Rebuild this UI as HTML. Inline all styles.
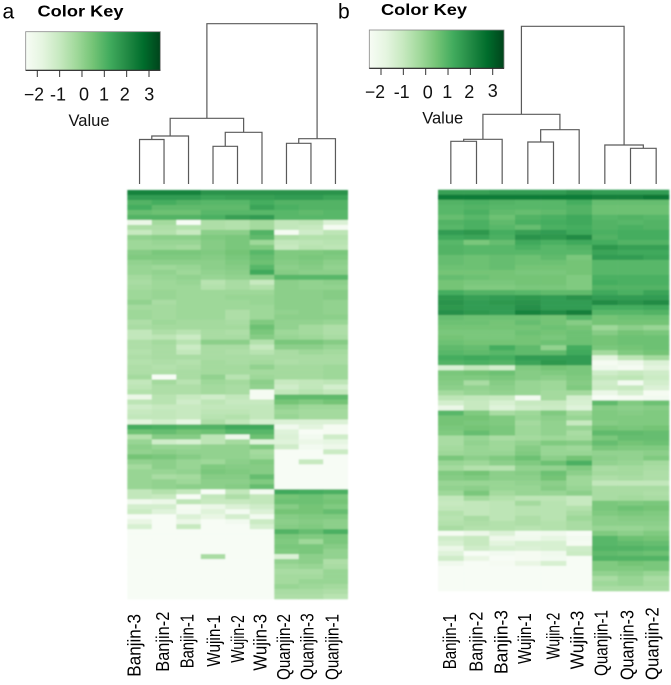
<!DOCTYPE html>
<html>
<head>
<meta charset="utf-8">
<title>Heatmaps</title>
<style>
html,body{margin:0;padding:0;background:#fff;width:671px;height:685px;overflow:hidden}
svg{display:block;font-family:"Liberation Sans",sans-serif}
</style>
</head>
<body>
<svg id="figure" xmlns="http://www.w3.org/2000/svg" width="671" height="685" viewBox="0 0 671 685">
  <defs>
    <linearGradient id="keyGrad" x1="0" x2="1" y1="0" y2="0"></linearGradient>
    <filter id="soften" x="-2%" y="-2%" width="104%" height="104%"><feGaussianBlur stdDeviation="0.7"/></filter>
  </defs>
  <rect width="671" height="685" fill="#fff"/>

  <text x="2.5" y="18.5" font-size="21" fill="#000">a</text>
  <text x="338" y="18.5" font-size="21" fill="#000">b</text>

  <g id="panelA">
    <text x="37.5" y="16.5" font-size="16" font-weight="bold" textLength="86" lengthAdjust="spacingAndGlyphs" fill="#000">Color Key</text>
    <g font-size="18" fill="#111" text-anchor="middle">
      <text x="34" y="100.5" textLength="20" lengthAdjust="spacingAndGlyphs">−2</text>
      <text x="58" y="100.5">-1</text>
      <text x="84" y="100.5">0</text>
      <text x="104" y="100.5">1</text>
      <text x="124.7" y="100.5">2</text>
      <text x="149.3" y="100.5">3</text>
    </g>
    <text x="89" y="126" font-size="17" text-anchor="middle" textLength="41" lengthAdjust="spacingAndGlyphs" fill="#111">Value</text>
    <g font-size="18" fill="#000" text-anchor="start">
      <text transform="translate(140.7,676.7) rotate(-90)" textLength="62.7" lengthAdjust="spacingAndGlyphs">Banjin-3</text>
      <text transform="translate(169,671.7) rotate(-90)" textLength="60" lengthAdjust="spacingAndGlyphs">Banjin-2</text>
      <text transform="translate(193.3,668.3) rotate(-90)" textLength="54.3" lengthAdjust="spacingAndGlyphs">Banjin-1</text>
      <text transform="translate(220,666.7) rotate(-90)" textLength="51.7" lengthAdjust="spacingAndGlyphs">Wujin-1</text>
      <text transform="translate(244,662.7) rotate(-90)" textLength="47.5" lengthAdjust="spacingAndGlyphs">Wujin-2</text>
      <text transform="translate(266.7,670.7) rotate(-90)" textLength="56.7" lengthAdjust="spacingAndGlyphs">Wujin-3</text>
      <text transform="translate(290,680) rotate(-90)" textLength="66" lengthAdjust="spacingAndGlyphs">Quanjin-2</text>
      <text transform="translate(313.3,680) rotate(-90)" textLength="66.7" lengthAdjust="spacingAndGlyphs">Quanjin-3</text>
      <text transform="translate(338.3,680) rotate(-90)" textLength="66" lengthAdjust="spacingAndGlyphs">Quanjin-1</text>
    </g>
  </g>

  <g id="panelB">
    <text x="381" y="15" font-size="16" font-weight="bold" textLength="86" lengthAdjust="spacingAndGlyphs" fill="#000">Color Key</text>
    <g font-size="18" fill="#111" text-anchor="middle">
      <text x="375" y="98" textLength="20" lengthAdjust="spacingAndGlyphs">−2</text>
      <text x="401.7" y="98">-1</text>
      <text x="427.7" y="98.5">0</text>
      <text x="447.3" y="98">1</text>
      <text x="469.3" y="98">2</text>
      <text x="492.7" y="97">3</text>
    </g>
    <text x="442.7" y="123.3" font-size="17" text-anchor="middle" textLength="41" lengthAdjust="spacingAndGlyphs" fill="#111">Value</text>
    <g font-size="18" fill="#000" text-anchor="start">
      <text transform="translate(456,669.3) rotate(-90)" textLength="55.3" lengthAdjust="spacingAndGlyphs">Banjin-1</text>
      <text transform="translate(482.7,671.7) rotate(-90)" textLength="60" lengthAdjust="spacingAndGlyphs">Banjin-2</text>
      <text transform="translate(507.7,674) rotate(-90)" textLength="64" lengthAdjust="spacingAndGlyphs">Banjin-3</text>
      <text transform="translate(531,664) rotate(-90)" textLength="50.7" lengthAdjust="spacingAndGlyphs">Wujin-1</text>
      <text transform="translate(559.3,659.4) rotate(-90)" textLength="46.7" lengthAdjust="spacingAndGlyphs">Wujin-2</text>
      <text transform="translate(583.7,669.4) rotate(-90)" textLength="58.7" lengthAdjust="spacingAndGlyphs">Wujin-3</text>
      <text transform="translate(607.7,676) rotate(-90)" textLength="66" lengthAdjust="spacingAndGlyphs">Quanjin-1</text>
      <text transform="translate(633.7,680) rotate(-90)" textLength="70" lengthAdjust="spacingAndGlyphs">Quanjin-3</text>
      <text transform="translate(658.3,680) rotate(-90)" textLength="72.7" lengthAdjust="spacingAndGlyphs">Quanjin-2</text>
    </g>
  </g>
</svg>

<script>
// Colour scale (R "Greens" ramp across the key range)
const colorRamp = ['#f7fcf5','#e5f5e0','#c7e9c0','#a1d99b','#74c476','#41ab5d','#238b45','#006d2c','#00441b'];
const keyRange = [-2.49, 3.49];
const keyTicks = [-2, -1, 0, 1, 2, 3];

// Panel a heatmap values: rows top to bottom, columns Banjin-3 .. Quanjin-1
const valuesA = [
[2.2,2.2,2.2,1.8,1.8,1.8,1.8,1.8,1.8],
[1.6,1.6,1.6,1.4,1.5,1.5,1.6,1.6,1.4],
[1,1.2,1,.9,.9,1.2,1,1,1],
[1.2,.8,.8,.8,.8,1.4,1.1,1,1],
[.7,.6,.6,.9,.9,.9,.9,.8,.9],
[1,1,1,1.1,1.5,1.6,.9,.9,.9],
[-2,-.3,-2.5,-.5,-.6,-.3,-.9,-.8,-1.5],
[-.5,-.5,-.6,-.5,-.6,-.3,-.9,-1,-2.4],
[-1,-.6,-1,.1,.1,1,-2.4,-1.2,-.8],
[0,.1,.1,.3,.4,.8,-.5,-.6,-.6],
[-.2,-.1,-.1,.2,.4,-.2,-.9,-.8,-.7],
[-.2,-.2,-.3,.2,.4,.3,-1,-.7,-.8],
[.2,.4,.4,.3,.5,.9,.3,.3,.4],
[.3,.3,.3,.2,.4,.7,.3,.4,.3],
[0,.1,.1,.1,.3,.6,.2,.3,.1],
[-.1,-.2,-.1,.1,.2,.9,.1,.2,0],
[-.1,0,-.2,0,.1,1.3,.2,.1,.1],
[-.3,-.1,0,-.1,0,.1,.9,.9,.9],
[-.4,-.2,-.1,-.7,-.4,-1,.1,0,.1],
[-.3,-.2,-.2,-.6,-.4,-.6,.1,0,0],
[-.2,-.1,-.2,-.2,-.2,-.2,.1,.1,.2],
[-.2,-.1,-.2,-.2,-.1,-.1,.1,.1,.2],
[0,-.4,-.2,-.2,-.2,-.1,.1,.1,0],
[-.3,-.3,-.2,-.2,-.2,-.2,.1,.1,0],
[-.2,-.3,-.2,-.2,-.5,-.2,0,.1,0],
[-.2,-.3,-.2,-.2,-.5,-.2,.1,.1,.1],
[-.5,-.2,-.3,-.3,-.4,.3,0,0,-.1],
[-.4,-.3,-.3,-.3,-.3,.6,0,-.3,-.5],
[-.9,-.5,-.7,-.4,-.5,.4,-.2,-.3,-.5],
[-.9,-.8,-1.1,-.4,-.4,.2,-.1,-.2,-.4],
[-.5,-.3,-.7,.1,.1,-.6,.4,.4,.2],
[-.5,-.4,-1.1,-.4,-.4,-1,.1,.1,-.1],
[-.6,-.4,-.9,-.4,-.5,-.7,-.4,-.2,-.3],
[-.5,-.4,-.4,-.4,-.4,-.4,-.4,-.4,-.4],
[-.6,-.5,-.6,-.3,-.4,-.3,-.5,-.4,-.4],
[-.5,-.6,-.5,-.3,-.3,0,-.3,-.3,-.2],
[-.5,-.5,-.4,-.3,-.3,-.3,-.3,-.3,-.2],
[-.3,-2.5,-.4,0,-.7,-.2,-.3,-.3,-.2],
[-.9,-.3,-.7,-.2,-.3,.1,-1,-.9,-.8],
[-.8,-.5,-.5,-.3,-.4,0,-1.2,-.9,-1.3],
[-.6,-.5,-.5,-.3,-.4,-2.4,-.9,-.7,-.9],
[-2,-.7,-1,-1.2,-.9,-2.4,.8,.8,.8],
[-.8,-.7,-1.2,-.8,-1,-1,.5,.3,.5],
[-1.2,-1,-1,-.9,-.9,-.9,0,-.2,-.2],
[-1,-.9,-1,-.8,-.8,-.9,-.2,-.3,-.3],
[-.9,-.9,-1,-.7,-.6,-.9,-.1,-.3,-.3],
[-1.7,-1.3,-1.9,-.5,-.9,-1.4,-1.5,-1.5,-1.5],
[1.2,1.1,1,1,1.3,1.3,-2.2,-1.7,-2.4],
[.6,.7,.5,.6,.9,.9,-1.6,-2.5,-2.4],
[-.6,.2,.2,-.8,-2.1,.6,-1.5,-2.3,-1.2],
[-.1,-1.2,-1.4,-.8,-.3,-1.6,-1.6,-2,-1.8],
[.1,-.1,-.1,0,0,.3,-1.2,-2.3,-2.1],
[0,.1,0,0,0,-.3,-2.5,-2.5,-1.1],
[.5,.4,.2,0,0,-.2,-2.5,-2.5,-2.5],
[0,.1,-.1,-.2,.1,.3,-2.5,-1,-2.5],
[-.3,.1,-.1,.3,.2,.2,-2.5,-2.5,-2.5],
[-.1,-.1,0,.4,.3,.2,-2.5,-2.5,-2.5],
[-.1,-.4,-.3,.2,.2,.7,-2.5,-2.5,-2.5],
[-.1,0,-.2,.1,.1,.3,-2.5,-2.5,-2.5],
[-.1,0,.1,.1,.2,.7,-2.5,-2.5,-2.5],
[-.9,-.6,-.9,-2.5,-.9,-2.3,1.3,1.2,1.1],
[-.9,-1,-2.5,-.9,-.5,-.9,.5,.6,.4],
[-2.2,-2,-.8,-1,-1,-.9,.6,.6,.5],
[-1.3,-1.3,-2.4,-2,-1.5,-1.2,.2,.5,.3],
[-1.1,-1.6,-2.3,-1.6,-2.3,-1.5,.5,.5,.7],
[-2.5,-2.5,-1.5,-1.9,-1.3,-2.3,.2,.3,.3],
[-1.9,-2.5,-2,-2.5,-2.3,-1.1,.1,.2,.1],
[-1.4,-2.5,-1,-2.5,-2.5,-1.4,.2,.3,.1],
[-2.5,-2.5,-2.5,-2.5,-2.5,-2.5,1,.7,1.1],
[-2.5,-2.5,-2.5,-2.5,-2.5,-2.5,.4,.3,.4],
[-2.5,-2.5,-2.5,-2.5,-2.5,-2.5,.3,-.2,.4],
[-2.5,-2.5,-2.5,-2.5,-2.5,-2.5,.4,.4,.2],
[-2.5,-2.5,-2.5,-2.5,-2.5,-2.5,.3,.4,0],
[-2.5,-2.5,-2.5,-.4,-2.5,-2.5,-1.5,.1,0],
[-2.5,-2.5,-2.5,-2.5,-2.5,-2.5,0,.1,-.5],
[-2.5,-2.5,-2.5,-2.5,-2.5,-2.5,-.2,-.1,-.4],
[-2.5,-2.5,-2.5,-2.5,-2.5,-2.5,-.4,-.4,-.1],
[-2.5,-2.5,-2.5,-2.5,-2.5,-2.5,-.3,-.3,-.1],
[-2.5,-2.5,-2.5,-2.5,-2.5,-2.5,-.3,-.1,-.1],
[-2.5,-2.5,-2.5,-2.5,-2.5,-2.5,-.1,-.2,-.3],
[-2.5,-2.5,-2.5,-2.5,-2.5,-2.5,-.4,-.4,-.5],
[-2.5,-2.5,-2.5,-2.5,-2.5,-2.5,-.5,-.5,-.7]
];

// Panel b heatmap values: rows top to bottom, columns Banjin-1 .. Quanjin-2
const valuesB = [
[1.5,1.5,1.6,1.6,1.6,1.8,1.6,1.6,1.6],
[2.4,2.4,2.4,2.4,2.4,2.4,2.3,2.3,2.5],
[1,1.1,1,.9,.9,1.2,.7,.7,.7],
[.9,1,.9,.9,.9,1,.6,.6,.6],
[.9,1.1,.8,.7,.8,1,.6,.6,.6],
[.7,.9,.6,1,1.1,1.3,.9,1,.9],
[1,1.1,.8,1.1,1.2,1.3,1,.9,1],
[.9,1.1,.9,.7,1.1,1.2,1,1.1,1],
[1.6,1.7,1.2,1.5,1.6,1.3,1.1,1.2,1.2],
[1.3,1.4,1.1,1.8,1.7,2,1,1.2,1.2],
[.9,.4,.7,1.3,1.1,1.3,1.2,1,1],
[1,.9,.9,1.1,.9,1,1.7,1.5,1.5],
[1,.9,.9,.9,.9,.9,1.4,1.3,1.3],
[.7,.6,.7,.6,.8,.4,1.6,1.6,1.4],
[.7,.6,.7,.6,.6,.5,.9,.9,.9],
[.6,.6,.7,.5,.5,.5,.9,.9,.9],
[.5,.5,.5,.4,.4,.5,.9,.9,.9],
[.7,.6,.5,.5,.5,.3,1.1,1.1,1.1],
[.5,.4,.4,.5,.5,.3,1.2,1.1,1.1],
[.5,.3,.3,.4,.4,.3,1,1,1],
[1.2,1,1,.9,.8,.8,1.3,1.1,1.4],
[1.7,1.5,1.6,1.7,1.6,1.8,1.6,1.6,1.6],
[1.8,1.6,1.7,1.8,1.6,1.6,2,1.8,2],
[1.7,1.6,1.6,1.9,1.6,1.6,1.2,1.2,1.3],
[1.9,1.7,1.6,2.2,2,2.3,.9,.9,1],
[.7,.6,.6,.6,.5,.9,.5,.6,.6],
[.6,.6,.5,.7,.5,.2,.5,.5,.5],
[.5,.5,.5,.5,.6,.5,-.2,.1,-.1],
[.4,.4,.4,.6,.5,.6,.2,.5,.4],
[.5,.4,.4,.5,.4,.6,.5,.6,.6],
[.6,.5,.5,.5,.6,.6,.5,.6,.6],
[.8,.7,1.2,.8,0,1.2,.4,.5,.6],
[.9,.8,.9,.8,.8,1.3,-.3,.3,.5],
[1.2,1.3,1.2,1.6,1.6,1.6,-1.7,-.8,-.3],
[1,1.1,1,1.4,1.7,1.6,-2.4,-2.1,-1.5],
[-1.5,-.9,-1.3,.3,.5,.4,-2.2,-2.4,-1.7],
[.4,.5,.6,.2,.3,.4,-1.2,-1,-1.2],
[.3,.3,.4,.2,.1,.3,-.9,-.8,-1.1],
[.2,-.4,.2,-.1,-.2,.2,-1.2,-2.3,-1.3],
[.1,0,.1,-.1,-.2,.3,-1.1,-1,-1.5],
[-.3,-.1,0,-.1,-.3,-.3,-2,-1.4,-2.4],
[-.8,-.9,-1,-2.3,-.3,-1.3,-2.5,-2.4,-2.3],
[-1.3,-1,-1.4,-1,-1,-1.4,.8,.3,.6],
[-2,-1,-1.6,-1.2,-1.1,-1.6,.2,.1,.2],
[.9,.3,-.4,-.2,.3,-.3,.3,.2,.3],
[.5,.5,.3,-.1,.1,-.1,.3,.3,.3],
[.5,.4,.3,-.3,0,-1,.2,.3,.3],
[.4,.5,.4,-.2,0,-.1,.5,.4,.5],
[.3,.7,.4,-.2,0,-.4,.8,.8,.7],
[-.4,-.1,-.4,-.3,-.2,-.3,.4,.7,.7],
[-.4,0,-.2,0,.3,.2,.7,.5,.6],
[-.3,-.1,-.2,.2,-.1,-.2,.4,.3,.3],
[-.2,-.1,-.1,.3,-.1,-.1,0,0,.1],
[.4,.1,.3,.6,.1,.5,.1,0,.3],
[-.1,-.2,.1,.3,.6,1.1,0,-.1,-.3],
[-.3,-.6,-.7,0,0,.3,-.4,-.3,-.4],
[.3,.5,.1,.2,.6,.1,-.3,-.3,-.5],
[.2,.3,.1,.1,.5,-.2,-.5,-.4,-.5],
[-.1,-.1,-.1,0,.1,-.2,-.9,-.9,-.9],
[0,.1,-.1,-.1,.2,-.1,-.4,-.4,-.4],
[-.2,.4,-.3,-.1,-.1,.1,-.4,-.4,-.5],
[-.9,-.3,-.6,-.8,-.8,-1,-.4,-.3,-.4],
[-1,-.9,-.8,-.3,-.7,-1,.4,.3,.4],
[-.9,-.9,-.8,-.7,-.7,-.6,.4,.6,.5],
[-.6,-.9,-.8,-.7,-.7,-.4,.3,.4,.3],
[-.7,-.4,-.8,-.5,-.7,-.2,.1,.2,.2],
[-.6,-.5,-.6,-.5,-.6,-.4,.1,.1,.1],
[-.4,-.6,-.6,-.7,-.6,-.4,-.1,-.1,0],
[-2.4,-2,-1.5,-2.3,-2.2,-2.5,.3,.1,.3],
[-1.2,-1,-2.1,-2.2,-1.8,-2.3,.9,.6,.5],
[-1.4,-1,-1.7,-1.4,-1.4,-2.4,.9,.8,.7],
[-2,-1.2,-1.4,-1.5,-1.4,-1.2,1,1,.9],
[-1.6,-2.5,-2.3,-2.4,-2.2,-1.1,.8,.7,.6],
[-1.2,-1.9,-2.5,-2.4,-2.3,-2.5,1,1,1],
[-2.2,-2.5,-2.4,-1.9,-1.4,-2.5,.3,.5,.4],
[-2.5,-2.5,-2.5,-2.5,-2.5,-2.5,.3,.3,.4],
[-2.5,-2.5,-2.5,-2.5,-2.5,-2.5,0,.1,-.1],
[-2.5,-2.5,-2.5,-2.5,-2.5,-2.5,-.4,-.1,-.4],
[-2.5,-2.5,-2.5,-2.5,-2.5,-2.5,-.2,-.1,-.3],
[-2.5,-2.5,-2.5,-2.5,-2.5,-2.5,-.4,-.4,-.4]
];

// Dendrogram merges (hclust convention: negative = leaf, positive = earlier merge) and heights
const mergesA = [[-1,-2],[1,-3],[-4,-5],[3,-6],[2,4],[-7,-8],[6,-9],[5,7]];
const heightsA = [44.5,48,37.7,51.7,65.7,40.7,45.3,160.3];
const mergesB = [[-1,-2],[1,-3],[-4,-5],[3,-6],[2,4],[-8,-9],[-7,6],[5,7]];
const heightsB = [42.7,44.7,42,54.3,69.7,35.7,39,157.7];

const NS = 'http://www.w3.org/2000/svg';

function rampColor(v) {
  let t = (v - keyRange[0]) / (keyRange[1] - keyRange[0]);
  t = Math.max(0, Math.min(1, t)) * (colorRamp.length - 1);
  const i = Math.min(colorRamp.length - 2, Math.floor(t));
  const f = t - i;
  const a = parseInt(colorRamp[i].slice(1), 16);
  const b = parseInt(colorRamp[i + 1].slice(1), 16);
  const c = [16, 8, 0].map(function (s) {
    return Math.round(((a >> s) & 255) * (1 - f) + ((b >> s) & 255) * f);
  });
  return 'rgb(' + c.join(',') + ')';
}

const grad = document.getElementById('keyGrad');
colorRamp.forEach(function (c, i) {
  const st = document.createElementNS(NS, 'stop');
  st.setAttribute('offset', i / (colorRamp.length - 1));
  st.setAttribute('stop-color', c);
  grad.appendChild(st);
});

function drawHeatmap(parent, values, left, right, top, bottom) {
  const g = document.createElementNS(NS, 'g');
  
  
  g.setAttribute('filter', 'url(#soften)');
  const nCols = values[0].length;
  const xScale = function (c) { return left + (right - left) * c / nCols; };
  const yScale = function (r) { return top + (bottom - top) * r / values.length; };
  values.forEach(function (row, r) {
    row.forEach(function (v, c) {
      const cell = document.createElementNS(NS, 'rect');
      
      
      cell.setAttribute('x', xScale(c));
      cell.setAttribute('y', yScale(r));
      cell.setAttribute('width', xScale(c + 1) - xScale(c) + 0.3);
      cell.setAttribute('height', yScale(r + 1) - yScale(r) + 0.3);
      cell.setAttribute('fill', rampColor(v));
      g.appendChild(cell);
    });
  });
  parent.appendChild(g);
}

function drawDendrogram(parent, merges, heights, left, right, baseY) {
  const g = document.createElementNS(NS, 'g');
  
  
  const colW = (right - left) / 9;
  const leafX = function (i) { return left + colW * (i + 0.5); };
  const yScale = function (h) { return baseY - h; };
  const nodes = [];
  const resolve = function (id) {
    if (id < 0) return { x: leafX(-id - 1), y: baseY };
    return nodes[id - 1];
  };
  merges.forEach(function (m, i) {
    const a = resolve(m[0]);
    const b = resolve(m[1]);
    const y = yScale(heights[i]);
    const p = document.createElementNS(NS, 'path');
    
    
    p.setAttribute('d', 'M' + a.x + ' ' + a.y + 'V' + y + 'H' + b.x + 'V' + b.y);
    p.setAttribute('fill', 'none');
    p.setAttribute('stroke', '#5a5a5a');
    p.setAttribute('stroke-width', '1.2');
    g.appendChild(p);
    nodes.push({ x: (a.x + b.x) / 2, y: y });
  });
  parent.appendChild(g);
}

function drawKey(parent, left, right, top, bottom, tickFirst, tickLast, tickEnd) {
  const g = document.createElementNS(NS, 'g');
  
  
  const bar = document.createElementNS(NS, 'rect');
  
  
  bar.setAttribute('x', left);
  bar.setAttribute('y', top);
  bar.setAttribute('width', right - left);
  bar.setAttribute('height', bottom - top);
  bar.setAttribute('fill', 'url(#keyGrad)');
  bar.setAttribute('stroke', '#888');
  bar.setAttribute('stroke-width', '0.8');
  g.appendChild(bar);
  const axis = document.createElementNS(NS, 'line');
  
  
  axis.setAttribute('x1', left);
  axis.setAttribute('x2', right);
  axis.setAttribute('y1', bottom);
  axis.setAttribute('y2', bottom);
  axis.setAttribute('stroke', '#222');
  axis.setAttribute('stroke-width', '1.1');
  g.appendChild(axis);
  const xScale = function (v) {
    return tickFirst + (tickLast - tickFirst) * (v - keyTicks[0]) / (keyTicks[keyTicks.length - 1] - keyTicks[0]);
  };
  keyTicks.forEach(function (v) {
    const t = document.createElementNS(NS, 'line');
    
    
    t.setAttribute('x1', xScale(v));
    t.setAttribute('x2', xScale(v));
    t.setAttribute('y1', bottom);
    t.setAttribute('y2', tickEnd);
    t.setAttribute('stroke', '#333');
    t.setAttribute('stroke-width', '1');
    g.appendChild(t);
  });
  parent.appendChild(g);
}

const panelA = document.getElementById('panelA');
const panelB = document.getElementById('panelB');
drawKey(panelA, 25.7, 160.3, 31.7, 70.3, 37.3, 149, 77);
drawKey(panelB, 369.3, 504, 30, 68.3, 381, 492.7, 75);
drawDendrogram(panelA, mergesA, heightsA, 127.3, 347.7, 184);
drawDendrogram(panelB, mergesB, heightsB, 438, 669, 184);
drawHeatmap(panelA, valuesA, 127.3, 347.7, 190, 599);
drawHeatmap(panelB, valuesB, 438, 669, 189.7, 591);
</script>
</body>
</html>
